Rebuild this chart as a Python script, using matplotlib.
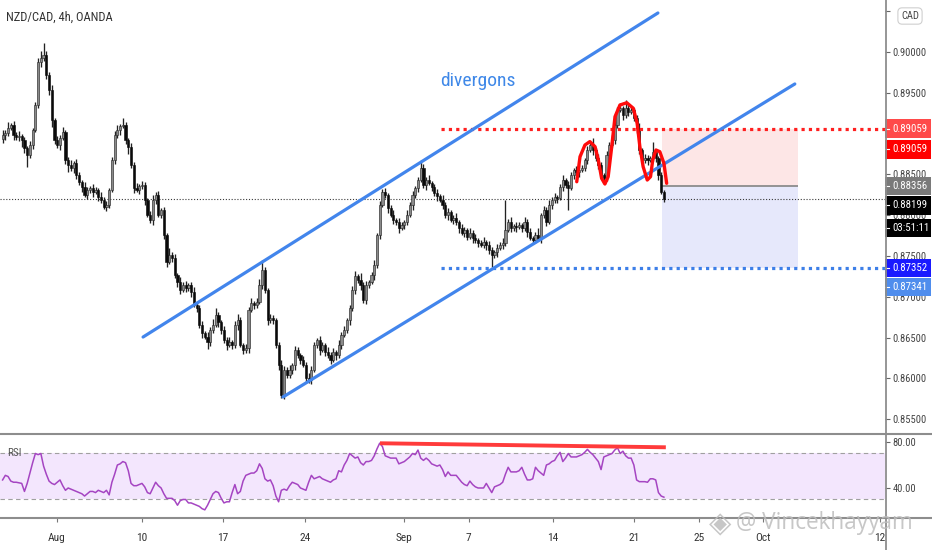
import numpy as np
import matplotlib
matplotlib.use('Agg')
import matplotlib.pyplot as plt
from matplotlib import font_manager as fm
from matplotlib.patches import Rectangle
from matplotlib.lines import Line2D
import matplotlib.transforms as mtransforms

# ---------------- data ----------------
closes = [
    0.88983, 0.89007, 0.89068, 0.89105, 0.88983, 0.88958, 0.88970, 0.88921, 0.88823, 0.88737,
    0.88860, 0.89044, 0.89350, 0.89877, 0.89926, 0.89963, 0.89718, 0.89534, 0.89166, 0.88921,
    0.88860, 0.88946, 0.89019, 0.88676, 0.88615, 0.88578, 0.88639, 0.88492, 0.88407, 0.88345,
    0.88247, 0.88309, 0.88333, 0.88284, 0.88309, 0.88223, 0.88186, 0.88100, 0.88125, 0.88309,
    0.88676, 0.88983, 0.89044, 0.89093, 0.89105, 0.88921, 0.88836, 0.88615, 0.88333, 0.88309,
    0.88358, 0.88370, 0.88186, 0.88002, 0.87941, 0.88186, 0.88247, 0.88002, 0.88063, 0.87757,
    0.87426, 0.87512, 0.87475, 0.87267, 0.87181, 0.87083, 0.87144, 0.87108, 0.87144, 0.87059,
    0.86899, 0.86862, 0.86654, 0.86556, 0.86507, 0.86446, 0.86593, 0.86654, 0.86777, 0.86691,
    0.86593, 0.86470, 0.86409, 0.86446, 0.86409, 0.86654, 0.86715, 0.86409, 0.86348, 0.86372,
    0.86838, 0.86924, 0.86899, 0.86936, 0.87144, 0.87328, 0.87083, 0.86715, 0.86740, 0.86715,
    0.86409, 0.86164, 0.85796, 0.86103, 0.86041, 0.86103, 0.86164, 0.86348, 0.86286, 0.86225,
    0.86164, 0.86005, 0.85980, 0.86103, 0.86409, 0.86470, 0.86348, 0.86409, 0.86323, 0.86286,
    0.86225, 0.86323, 0.86286, 0.86409, 0.86532, 0.86593, 0.86715, 0.86862, 0.87083, 0.87255,
    0.87206, 0.87144, 0.86960, 0.87144, 0.87181, 0.87267, 0.87389, 0.87757, 0.88125, 0.88284,
    0.88247, 0.88088, 0.88002, 0.87941, 0.87916, 0.87843, 0.87880, 0.87916, 0.88002, 0.88125,
    0.88247, 0.88333, 0.88431, 0.88578, 0.88370, 0.88431, 0.88394, 0.88345, 0.88272, 0.88235,
    0.88186, 0.88125, 0.88002, 0.88039, 0.87941, 0.87965, 0.87916, 0.87843, 0.87782, 0.87818,
    0.87733, 0.87782, 0.87720, 0.87696, 0.87659, 0.87635, 0.87671, 0.87635, 0.87573, 0.87512,
    0.87549, 0.87598, 0.87635, 0.87659, 0.87818, 0.87916, 0.87843, 0.87867, 0.87855, 0.87880,
    0.87843, 0.87916, 0.87794, 0.87720, 0.87696, 0.87757, 0.87720, 0.88002, 0.88063, 0.87916,
    0.88125, 0.88186, 0.88223, 0.88211, 0.88345, 0.88431, 0.88370, 0.88333, 0.88492, 0.88554,
    0.88529, 0.88554, 0.88578, 0.88676, 0.88799, 0.88860, 0.88799, 0.88701, 0.88615, 0.88492,
    0.88456, 0.88737, 0.88860, 0.88921, 0.89105, 0.89289, 0.89313, 0.89228, 0.89313, 0.89264,
    0.89289, 0.89191, 0.89068, 0.88799, 0.88676, 0.88701, 0.88676, 0.88701, 0.88774, 0.88701,
    0.88492, 0.88284, 0.88199,
]
first_open = 0.88930

# wick lengths above / below the candle body, in pips
wick_hi = [
    6, 4, 8, 3, 5, 4, 6, 3, 4, 3, 5, 3, 4, 5, 8, 15, 5, 4, 6, 3,
    5, 4, 6, 3, 4, 6, 3, 5, 4, 3, 6, 4, 3, 5, 4, 3, 6, 4, 5, 3,
    4, 5, 6, 3, 8, 4, 3, 5, 4, 6, 3, 5, 4, 3, 5, 6, 4, 5, 3, 4,
    3, 8, 4, 5, 3, 6, 4, 5, 3, 4, 6, 3, 4, 5, 3, 6, 4, 7, 8, 4,
    3, 5, 4, 6, 3, 5, 8, 4, 3, 5, 4, 6, 3, 5, 7, 12, 4, 3, 5, 4,
    3, 4, 6, 5, 4, 6, 3, 5, 4, 3, 5, 4, 6, 5, 4, 3, 5, 4, 3, 6,
    4, 5, 3, 6, 4, 5, 3, 4, 5, 6, 3, 8, 4, 5, 3, 4, 6, 3, 5, 4,
    5, 3, 4, 6, 3, 5, 4, 3, 6, 4, 5, 3, 4, 10, 5, 4, 6, 3, 4, 5,
    3, 6, 4, 5, 3, 4, 6, 3, 5, 4, 3, 6, 4, 5, 3, 4, 6, 3, 5, 4,
    3, 5, 4, 6, 37, 4, 6, 3, 5, 4, 3, 6, 4, 5, 3, 4, 8, 3, 5, 4,
    6, 4, 5, 3, 4, 6, 3, 5, 4, 3, 5, 6, 4, 3, 5, 4, 8, 3, 5, 4,
    3, 5, 4, 6, 5, 4, 6, 3, 10, 4, 5, 3, 4, 6, 3, 5, 4, 3, 12, 4,
    3, 4, 2,
]
wick_lo = [
    5, 6, 4, 3, 6, 4, 5, 8, 6, 15, 4, 5, 3, 4, 6, 4, 5, 6, 8, 5,
    4, 6, 3, 5, 8, 4, 6, 5, 4, 6, 3, 5, 4, 6, 3, 5, 4, 3, 5, 4,
    3, 5, 4, 6, 3, 5, 8, 4, 6, 3, 5, 4, 6, 3, 4, 6, 5, 3, 4, 5,
    6, 3, 5, 4, 6, 5, 3, 5, 4, 6, 3, 5, 4, 6, 3, 8, 5, 4, 3, 6,
    5, 4, 6, 3, 5, 4, 6, 3, 5, 4, 6, 3, 5, 4, 3, 5, 4, 6, 3, 5,
    4, 6, 3, 5, 4, 3, 5, 6, 4, 5, 3, 6, 4, 5, 3, 4, 6, 3, 5, 4,
    5, 3, 6, 4, 5, 3, 4, 6, 3, 5, 4, 6, 3, 5, 4, 3, 6, 4, 5, 3,
    4, 6, 3, 5, 4, 6, 3, 5, 4, 3, 6, 4, 5, 3, 4, 6, 3, 5, 4, 6,
    3, 5, 4, 6, 3, 5, 4, 6, 3, 5, 4, 3, 6, 4, 5, 3, 4, 6, 5, 15,
    4, 6, 3, 5, 4, 3, 5, 4, 6, 3, 5, 4, 6, 3, 5, 4, 3, 6, 4, 5,
    3, 5, 4, 6, 3, 5, 4, 27, 3, 5, 4, 6, 3, 4, 5, 3, 6, 4, 5, 3,
    5, 4, 6, 3, 5, 4, 3, 6, 4, 5, 3, 4, 6, 5, 3, 4, 6, 3, 4, 5,
    6, 3, 4,
]

rsi = [
    47, 51, 50, 46, 45, 45, 44.5, 44, 37, 44, 53, 62, 70, 69, 70, 59, 52, 46, 44, 43,
    45, 47, 42, 38, 40, 39, 38, 37, 36, 35, 33, 35, 37, 37, 36, 38, 37, 36, 38, 34,
    45, 52, 60, 61, 63, 62, 55, 44, 42, 42, 43, 44, 41, 36, 35, 40, 45, 42, 40, 35,
    31, 31, 31, 29, 25, 29, 30, 30, 27, 27, 26, 25, 24, 22, 21, 25, 30, 35, 37, 36,
    31, 27, 28, 28, 36, 43, 35, 37, 46, 51, 52, 53, 53, 55, 61, 57, 48, 46, 47, 42,
    33, 28, 38, 39, 38, 42, 45, 44, 43, 40, 39, 38, 45, 51, 48, 49, 50, 48, 47, 46,
    45, 47, 48, 55, 54, 60, 64, 70, 68, 66, 67, 62, 60, 63, 63, 64, 68, 74, 79, 76,
    68, 67, 66, 66, 66, 61, 62, 63, 65, 67, 70, 69, 73, 66, 64, 66, 64, 61, 60, 59,
    60, 56, 50, 54, 51, 51, 51, 48, 45, 43, 42, 46, 43, 41, 40, 40, 40, 44, 40, 36,
    41, 42, 43, 45, 52, 58, 54, 54, 54, 55, 58, 52, 47, 47, 48, 58, 55, 53, 51, 60,
    61, 63, 64, 68, 71, 63, 66, 70, 67, 67, 67, 68, 69, 71, 73.6, 71, 69, 66, 63, 56,
    67, 68, 69, 70, 73, 75, 70, 72, 68, 66, 66, 60, 47, 45.5, 45.5, 45.5, 45, 48, 48, 47,
    36, 33, 32,
]

# date ticks (bar index -> label)
date_ticks = [19.9, 51.0, 80.6, 110.6, 146.9, 170.6, 201.4, 231.0, 254.8, 278.2, 321.0]
date_labels = ['Aug', '10', '17', '24', 'Sep', '7', '14', '21', '25', 'Oct', '12']

price_ticks = [0.855, 0.860, 0.865, 0.870, 0.875, 0.880, 0.885, 0.890, 0.895, 0.900, 0.905]
hidden_price_ticks = [0.890, 0.905]   # labels covered by tags / currency box in the reference
rsi_ticks = [40, 80]

# drawings (bar index, price)
upper_line_x = [51.4, 239.8]
upper_line_y = [0.86507, 0.90478]
lower_line_x = [102.6, 289.9]
lower_line_y = [0.85772, 0.89608]
hs_x = [210.1, 211.3, 213.1, 214.9, 216.8, 218.0, 219.2, 220.4, 221.6, 222.9, 224.1, 225.9,
        228.4, 230.8, 232.2, 233.2, 234.4, 235.9, 237.1, 237.9, 239.1, 240.5, 242.0, 243.0]
hs_y = [0.88410, 0.88717, 0.88860, 0.88902, 0.88839, 0.88676, 0.88452, 0.88382, 0.88472,
        0.88839, 0.89207, 0.89350, 0.89378, 0.89310, 0.89126, 0.88839, 0.88594, 0.88431,
        0.88472, 0.88676, 0.88799, 0.88778, 0.88636, 0.88391]
stop_level = 0.89059
entry_level = 0.88356
target_level = 0.87352
target_level2 = 0.87341
last_price = 0.88199
level_start = 160.6
box_x = [241.2, 291.2]
rsi_div_x = [138.1, 242.7]
rsi_div_y = [78.9, 75.4]

# ---------------- fonts ----------------
avail = {f.name for f in fm.fontManager.ttflist}
def pick(*cands):
    for c in cands:
        if c in avail:
            return c
    return 'DejaVu Sans'
NARROW = pick('Liberation Sans Narrow', 'Roboto Condensed', 'Open Sans Condensed', 'Liberation Sans')
is_narrow = NARROW not in ('Liberation Sans', 'DejaVu Sans')
fs = 1.0 if is_narrow else 0.86
plt.rcParams['font.family'] = [NARROW, 'DejaVu Sans']

W, H = 932, 550
fig = plt.figure(figsize=(W / 100, H / 100), dpi=100)
fig.patch.set_facecolor('white')
ax = fig.add_axes([0, 117 / H, 885 / W, 433 / H])
axr = fig.add_axes([0, 32 / H, 885 / W, 84 / H], sharex=ax)

XMIN, XMAX = -0.95, 322.9
ax.set_xlim(XMIN, XMAX)
ax.set_ylim(0.85331, 0.90637)
axr.set_ylim(13.9, 86.96)

# ---------------- candles ----------------
c = np.array(closes)
o = np.concatenate([[first_open], c[:-1]])
idx = np.arange(len(c))
top = np.maximum(o, c)
bot = np.minimum(o, c)
hi = top + np.array(wick_hi) * 0.0001
lo = bot - np.array(wick_lo) * 0.0001
up = c >= o
ax.vlines(idx, lo, hi, color='#222222', lw=0.95, zorder=3)
hgt = np.maximum(top - bot, 0.00004)
ax.bar(idx[up], hgt[up], bottom=bot[up], width=0.8, color='#8a8a8a',
       edgecolor='#222222', linewidth=0.4, zorder=4)
ax.bar(idx[~up], hgt[~up], bottom=bot[~up], width=0.8, color='#0a0a0a',
       edgecolor='#0a0a0a', linewidth=0.4, zorder=4)

# ---------------- drawings ----------------
ax.add_patch(Rectangle((box_x[0], entry_level), box_x[1] - box_x[0], stop_level - entry_level,
                       facecolor='#fde6e6', edgecolor='none', zorder=1))
ax.add_patch(Rectangle((box_x[0], target_level), box_x[1] - box_x[0], entry_level - target_level,
                       facecolor='#e6e8fb', edgecolor='none', zorder=1))
ax.hlines(entry_level, box_x[0], box_x[1], color='#8c8c8c', lw=1.3, zorder=2)

ax.hlines(last_price, XMIN, XMAX, color='#3a3a3a', lw=0.8, linestyles=(0, (1, 1.6)), zorder=2)
ax.hlines(stop_level, level_start, XMAX, color='#ff1f1f', lw=2.3, linestyles=(0, (1, 1.3)), zorder=5)
ax.hlines(target_level, level_start, XMAX, color='#3d7fe8', lw=2.3, linestyles=(0, (1, 1.3)), zorder=5)

ax.plot(upper_line_x, upper_line_y, color='#4285ec', lw=2.3, solid_capstyle='round', zorder=6)
ax.plot(lower_line_x, lower_line_y, color='#4285ec', lw=2.3, solid_capstyle='round', zorder=6)
ax.plot(hs_x, hs_y, color='#ff0a0a', lw=2.4, solid_joinstyle='round', solid_capstyle='round', zorder=7)

ax.text(160.0, 0.89650, 'divergons', color='#3f88e8', fontsize=14 * fs, ha='left', va='center', zorder=8)

# ---------------- axis styling ----------------
for a in (ax, axr):
    for s in a.spines.values():
        s.set_visible(False)
    a.set_facecolor('white')

ax.tick_params(axis='x', which='both', bottom=False, labelbottom=False)
ax.yaxis.tick_right()
ax.set_yticks(price_ticks)
ax.set_yticklabels(['' if p in hidden_price_ticks else f'{p:.5f}' for p in price_ticks])
ax.tick_params(axis='y', direction='out', length=3.5, width=0.8, color='#666666',
               labelsize=7.6 * fs, labelcolor='#444444', pad=2)

axr.yaxis.tick_right()
axr.set_yticks(rsi_ticks)
axr.set_yticklabels([f'{r:.2f}' for r in rsi_ticks])
axr.tick_params(axis='y', direction='out', length=3.5, width=0.8, color='#666666',
                labelsize=7.6 * fs, labelcolor='#444444', pad=2)
axr.set_xticks(date_ticks)
axr.set_xticklabels(date_labels)
axr.tick_params(axis='x', direction='out', length=3, width=0.8, color='#777777',
                labelsize=8.2 * fs, labelcolor='#333333', pad=8)

# RSI panel
axr.axhspan(30, 70, color='#f3e6fd', zorder=0, lw=0)
axr.axhline(70, color='#a0a0a0', lw=0.8, ls=(0, (4, 3)), zorder=1)
axr.axhline(30, color='#a0a0a0', lw=0.8, ls=(0, (4, 3)), zorder=1)
axr.plot(idx, rsi, color='#a545c2', lw=1.1, zorder=3)
axr.plot(rsi_div_x, rsi_div_y, color='#ff3b3b', lw=2.8, solid_capstyle='butt', zorder=4)
axr.text(0.008, 70.5, 'RSI', transform=axr.get_yaxis_transform(), color='#555555',
         fontsize=8 * fs, ha='left', va='center', zorder=5)

# ---------------- price tags ----------------
PX = 0.00012255  # price per pixel
def tag(price, text, fc, dy=0.0, tc='white'):
    trans = ax.get_yaxis_transform() + mtransforms.ScaledTranslation(0, -dy / 100, fig.dpi_scale_trans)
    ax.add_patch(Rectangle((1.0, price - 9.3 * PX), 46 / 885, 18.6 * PX, transform=trans,
                           facecolor=fc, edgecolor='none', clip_on=False, zorder=20))
    ax.add_line(Line2D([1.0, 1.0 + 4 / 885], [price, price], transform=trans, color=tc,
                       lw=0.8, clip_on=False, zorder=21))
    ax.text(1.0 + 7 / 885, price, text, transform=trans, color=tc, fontsize=7.8 * fs,
            ha='left', va='center', clip_on=False, zorder=22)

tag(stop_level, f'{stop_level:.5f}', '#ff4a4a')
tag(stop_level, f'{stop_level:.5f}', '#ff0000', dy=20.5)
tag(entry_level, f'{entry_level:.5f}', '#7a7a7a')
tag(last_price, f'{last_price:.5f}', '#000000', dy=6.5)
tag(last_price, '03:51:11', '#000000', dy=29.0)
tag(target_level, f'{target_level:.5f}', '#1a1aff')
tag(target_level, f'{target_level2:.5f}', '#4f8ded', dy=19.0)

# CAD box
fig.text(910 / W, 1 - 16 / H, 'CAD', fontsize=7.6 * fs, color='#444444', ha='center', va='center',
         bbox=dict(boxstyle='round,pad=0.3,rounding_size=0.4', fc='white', ec='#cfcfcf', lw=0.8),
         zorder=30)

# title
fig.text(6 / W, 1 - 17 / H, 'NZD/CAD, 4h, OANDA', fontsize=9 * fs, color='#333333',
         ha='left', va='center')

# separators
sep = '#8d8d8d'
fig.add_artist(Line2D([0, 1], [1 - 433.5 / H] * 2, transform=fig.transFigure, color=sep, lw=1.5, zorder=25))
fig.add_artist(Line2D([0, 1], [1 - 518 / H] * 2, transform=fig.transFigure, color=sep, lw=1.5, zorder=25))
fig.add_artist(Line2D([885.5 / W] * 2, [0, 1], transform=fig.transFigure, color=sep, lw=1.3, zorder=25))

# watermark
fig.text(720 / W, 1 - 524 / H, '◈', family='DejaVu Sans', fontsize=21, color='#bdbdbd',
         ha='center', va='center', alpha=0.85, zorder=40)
fig.text(736 / W, 1 - 523 / H, '@ Vincekhayyam', family=['Open Sans', 'DejaVu Sans'],
         fontsize=16.3, color='#bdbdbd', ha='left', va='center', alpha=0.85, zorder=40)

fig.savefig('out.png', dpi=100, facecolor='white')
